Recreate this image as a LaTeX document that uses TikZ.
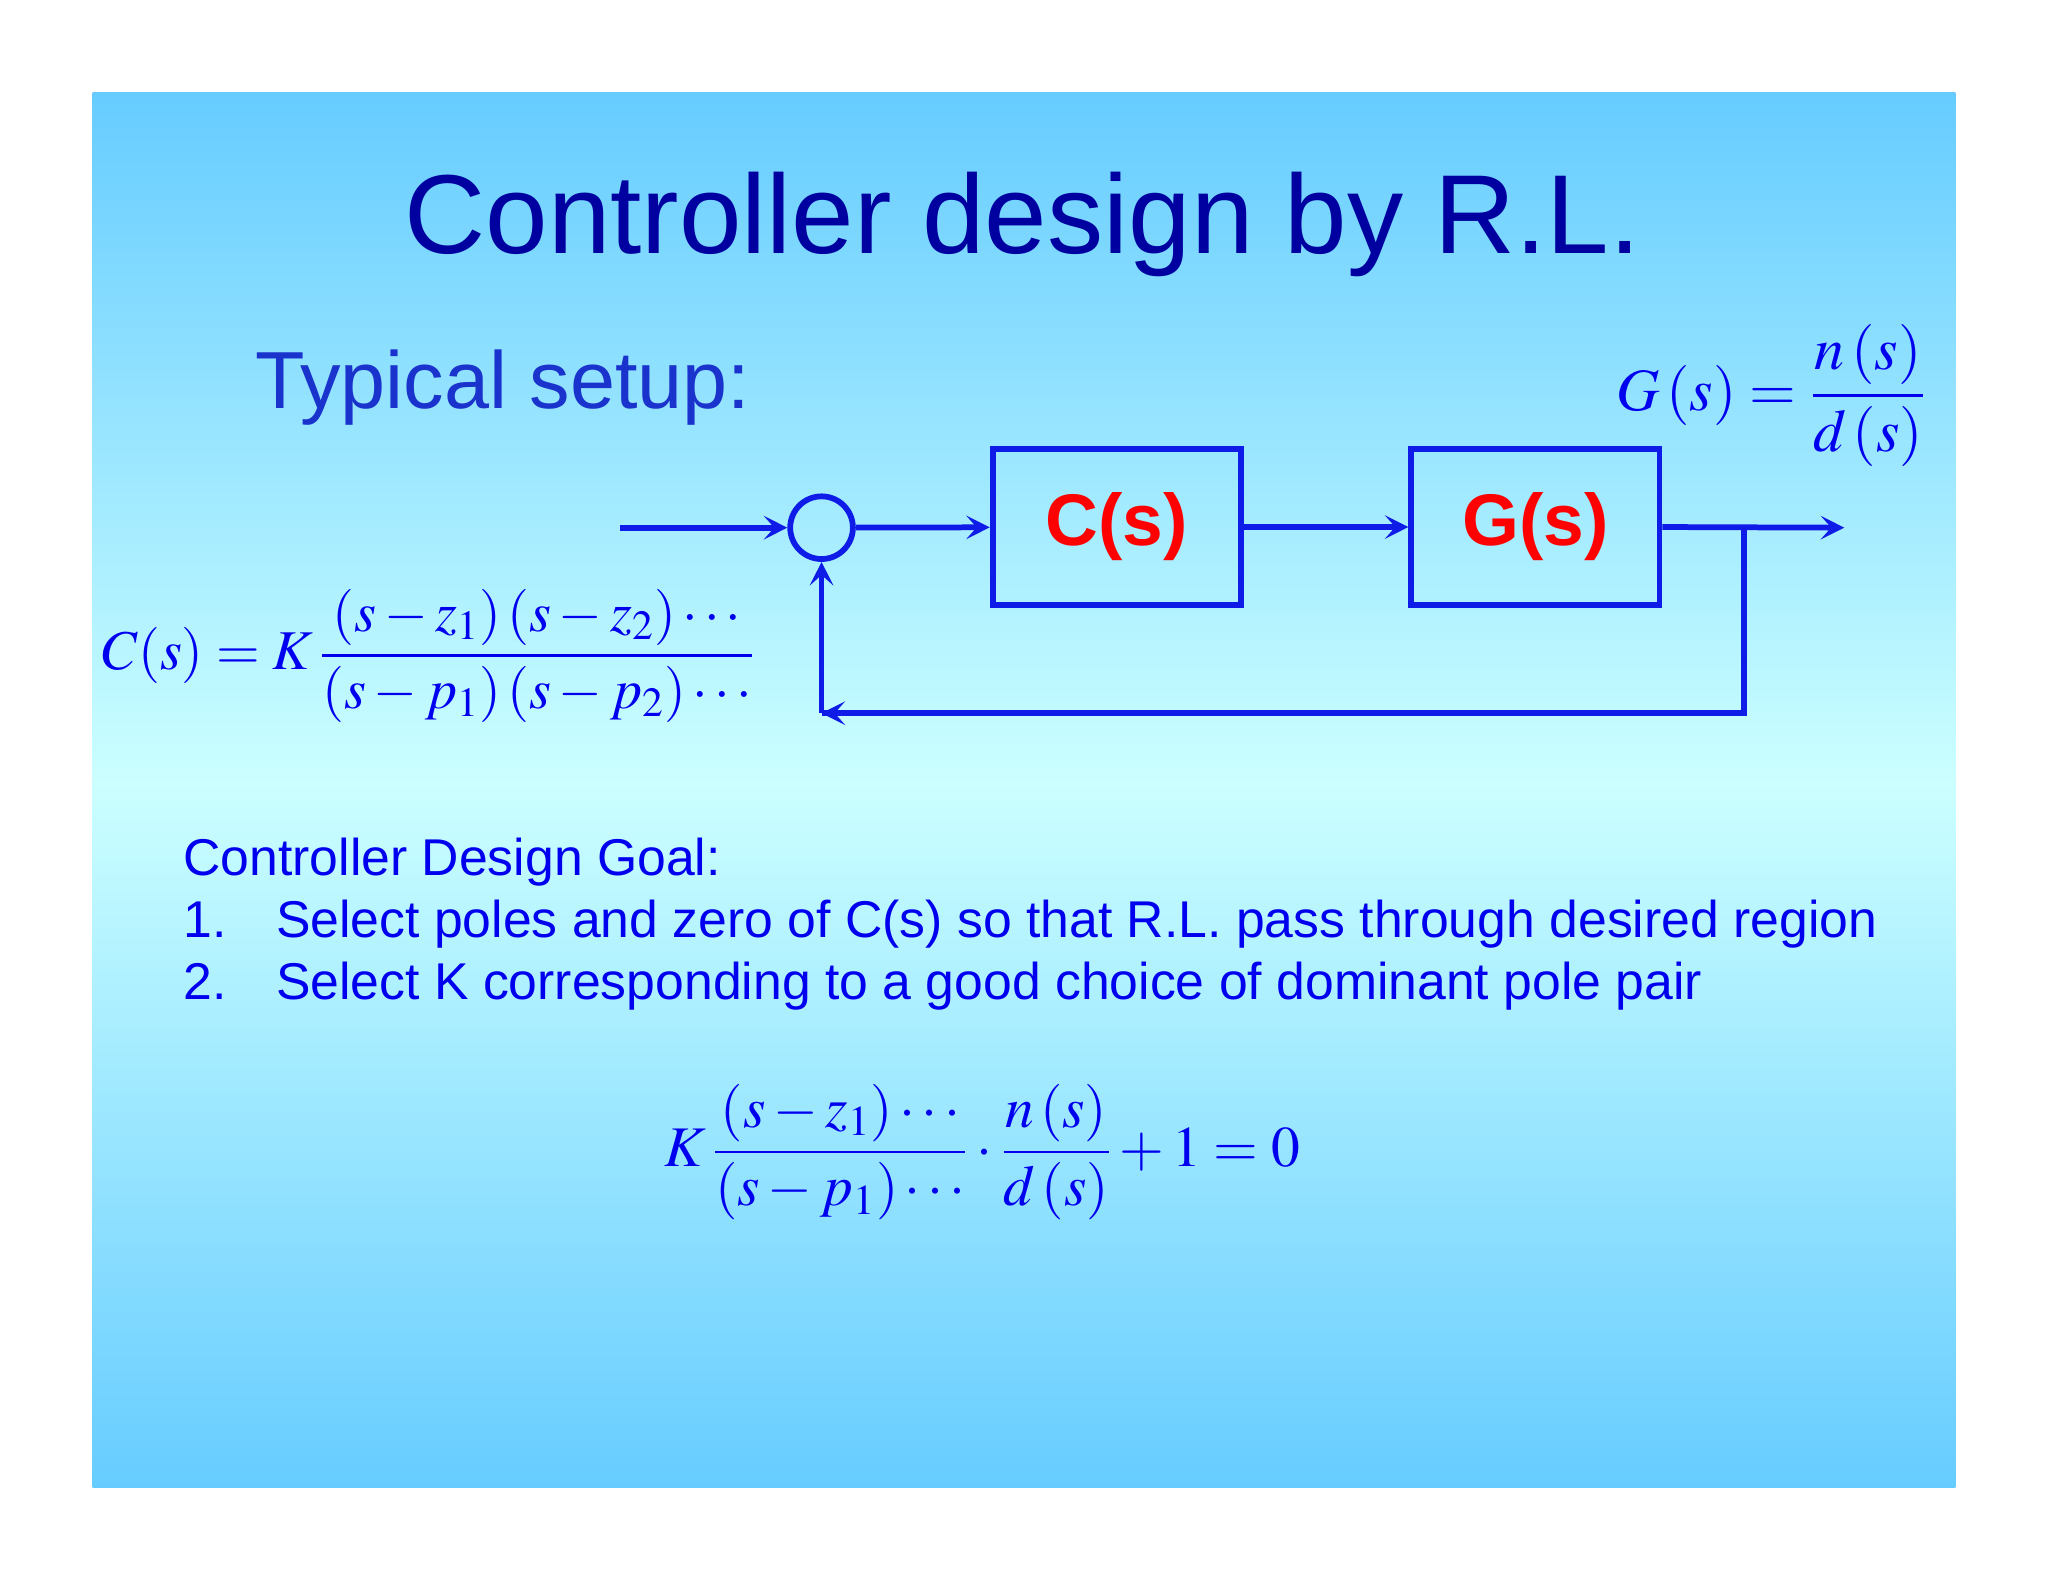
\documentclass[tikz,border=0pt]{standalone}
\usepackage{amsmath}
\usepackage{mathptmx}
\usepackage{fontspec}
\setmainfont{Liberation Sans}
\usetikzlibrary{arrows.meta}
\definecolor{bgA}{HTML}{66CCFF}
\definecolor{bgB}{HTML}{CCFFFF}
\definecolor{ttl}{HTML}{0000A0}
\definecolor{sub}{HTML}{1A33CC}
\definecolor{ln}{HTML}{0F1BE6}
\definecolor{mth}{HTML}{0000EE}
\tikzset{
 conn/.style={line width=2.2pt,draw=ln},
 arr/.style={conn,-{Stealth[length=9pt,width=9pt,inset=4pt]}},
 blk/.style={draw=ln,line width=2.2pt,minimum width=95pt,minimum height=59.5pt,inner sep=0pt,
   text=red,font=\fontsize{28}{32}\selectfont\bfseries},
 txt/.style={text=mth,font=\fontsize{19.8}{24}\selectfont,anchor=base west,inner sep=0pt},
 mathn/.style={text=mth,font=\fontsize{23}{27}\selectfont,inner sep=0pt}
}
\begin{document}
\begin{tikzpicture}[x=0.5pt,y=-0.5pt]
\useasboundingbox (0,0) rectangle (1568,1211);
\fill[white] (0,0) rectangle (1568,1211);
\shade[top color=bgA,bottom color=bgB] (71,71) rectangle (1497,600);
\shade[top color=bgB,bottom color=bgA] (71,600) rectangle (1497,1139);
\node[text=ttl,font=\fontsize{43}{48}\selectfont] (title) at (783,172) {Controller design by R.L.};
\node[text=sub,font=\fontsize{31}{35}\selectfont,anchor=west,inner sep=0pt] (typ) at (195,297) {Typical setup:};
\node[mathn,anchor=east] (geq) at (1475,303) {$G\left(s\right)=\dfrac{n\left(s\right)}{d\left(s\right)}$};
\node[draw=ln,line width=2.2pt,circle,minimum size=24pt,inner sep=0pt] (sum) at (629,404) {};
\coordinate (in) at (475,404);
\node[blk] (C) at (855,403.5) {C(s)};
\node[blk] (G) at (1175.5,403.5) {G(s)};
\coordinate (br) at (1335,404);
\coordinate (out) at (1412,404);
\coordinate (bd) at (1335,546);
\coordinate (bl) at (629,546);
\draw[arr] (in) -- (sum);
\draw[arr] (sum) -- (C);
\draw[arr] (C) -- (G);
\draw[arr] (G.east) -- (out);
\draw[conn] (br) -- (bd) -- (bl);
\draw[arr] (bl) -- (sum.south);
\draw[arr] (bd) -- (bl);
\node[mathn,anchor=west,font=\fontsize{21.5}{26}\selectfont] (ceq) at (78,502) {$C(s)=K\,\dfrac{\left(s-z_1\right)\left(s-z_2\right)\cdots}{\left(s-p_1\right)\left(s-p_2\right)\cdots}$};
\node[txt] (goal) at (140,670) {Controller Design Goal:};
\node[txt] (n1) at (140,718) {1.};
\node[txt] (t1) at (211,718) {Select poles and zero of C(s) so that R.L. pass through desired region};
\node[txt] (n2) at (140,765) {2.};
\node[txt] (t2) at (211,765) {Select K corresponding to a good choice of dominant pole pair};
\node[mathn,font=\fontsize{22}{26}\selectfont] (eq) at (752,882) {$K\,\dfrac{\left(s-z_1\right)\cdots}{\left(s-p_1\right)\cdots}\cdot\dfrac{n\left(s\right)}{d\left(s\right)}+1=0$};
\end{tikzpicture}
\end{document}
